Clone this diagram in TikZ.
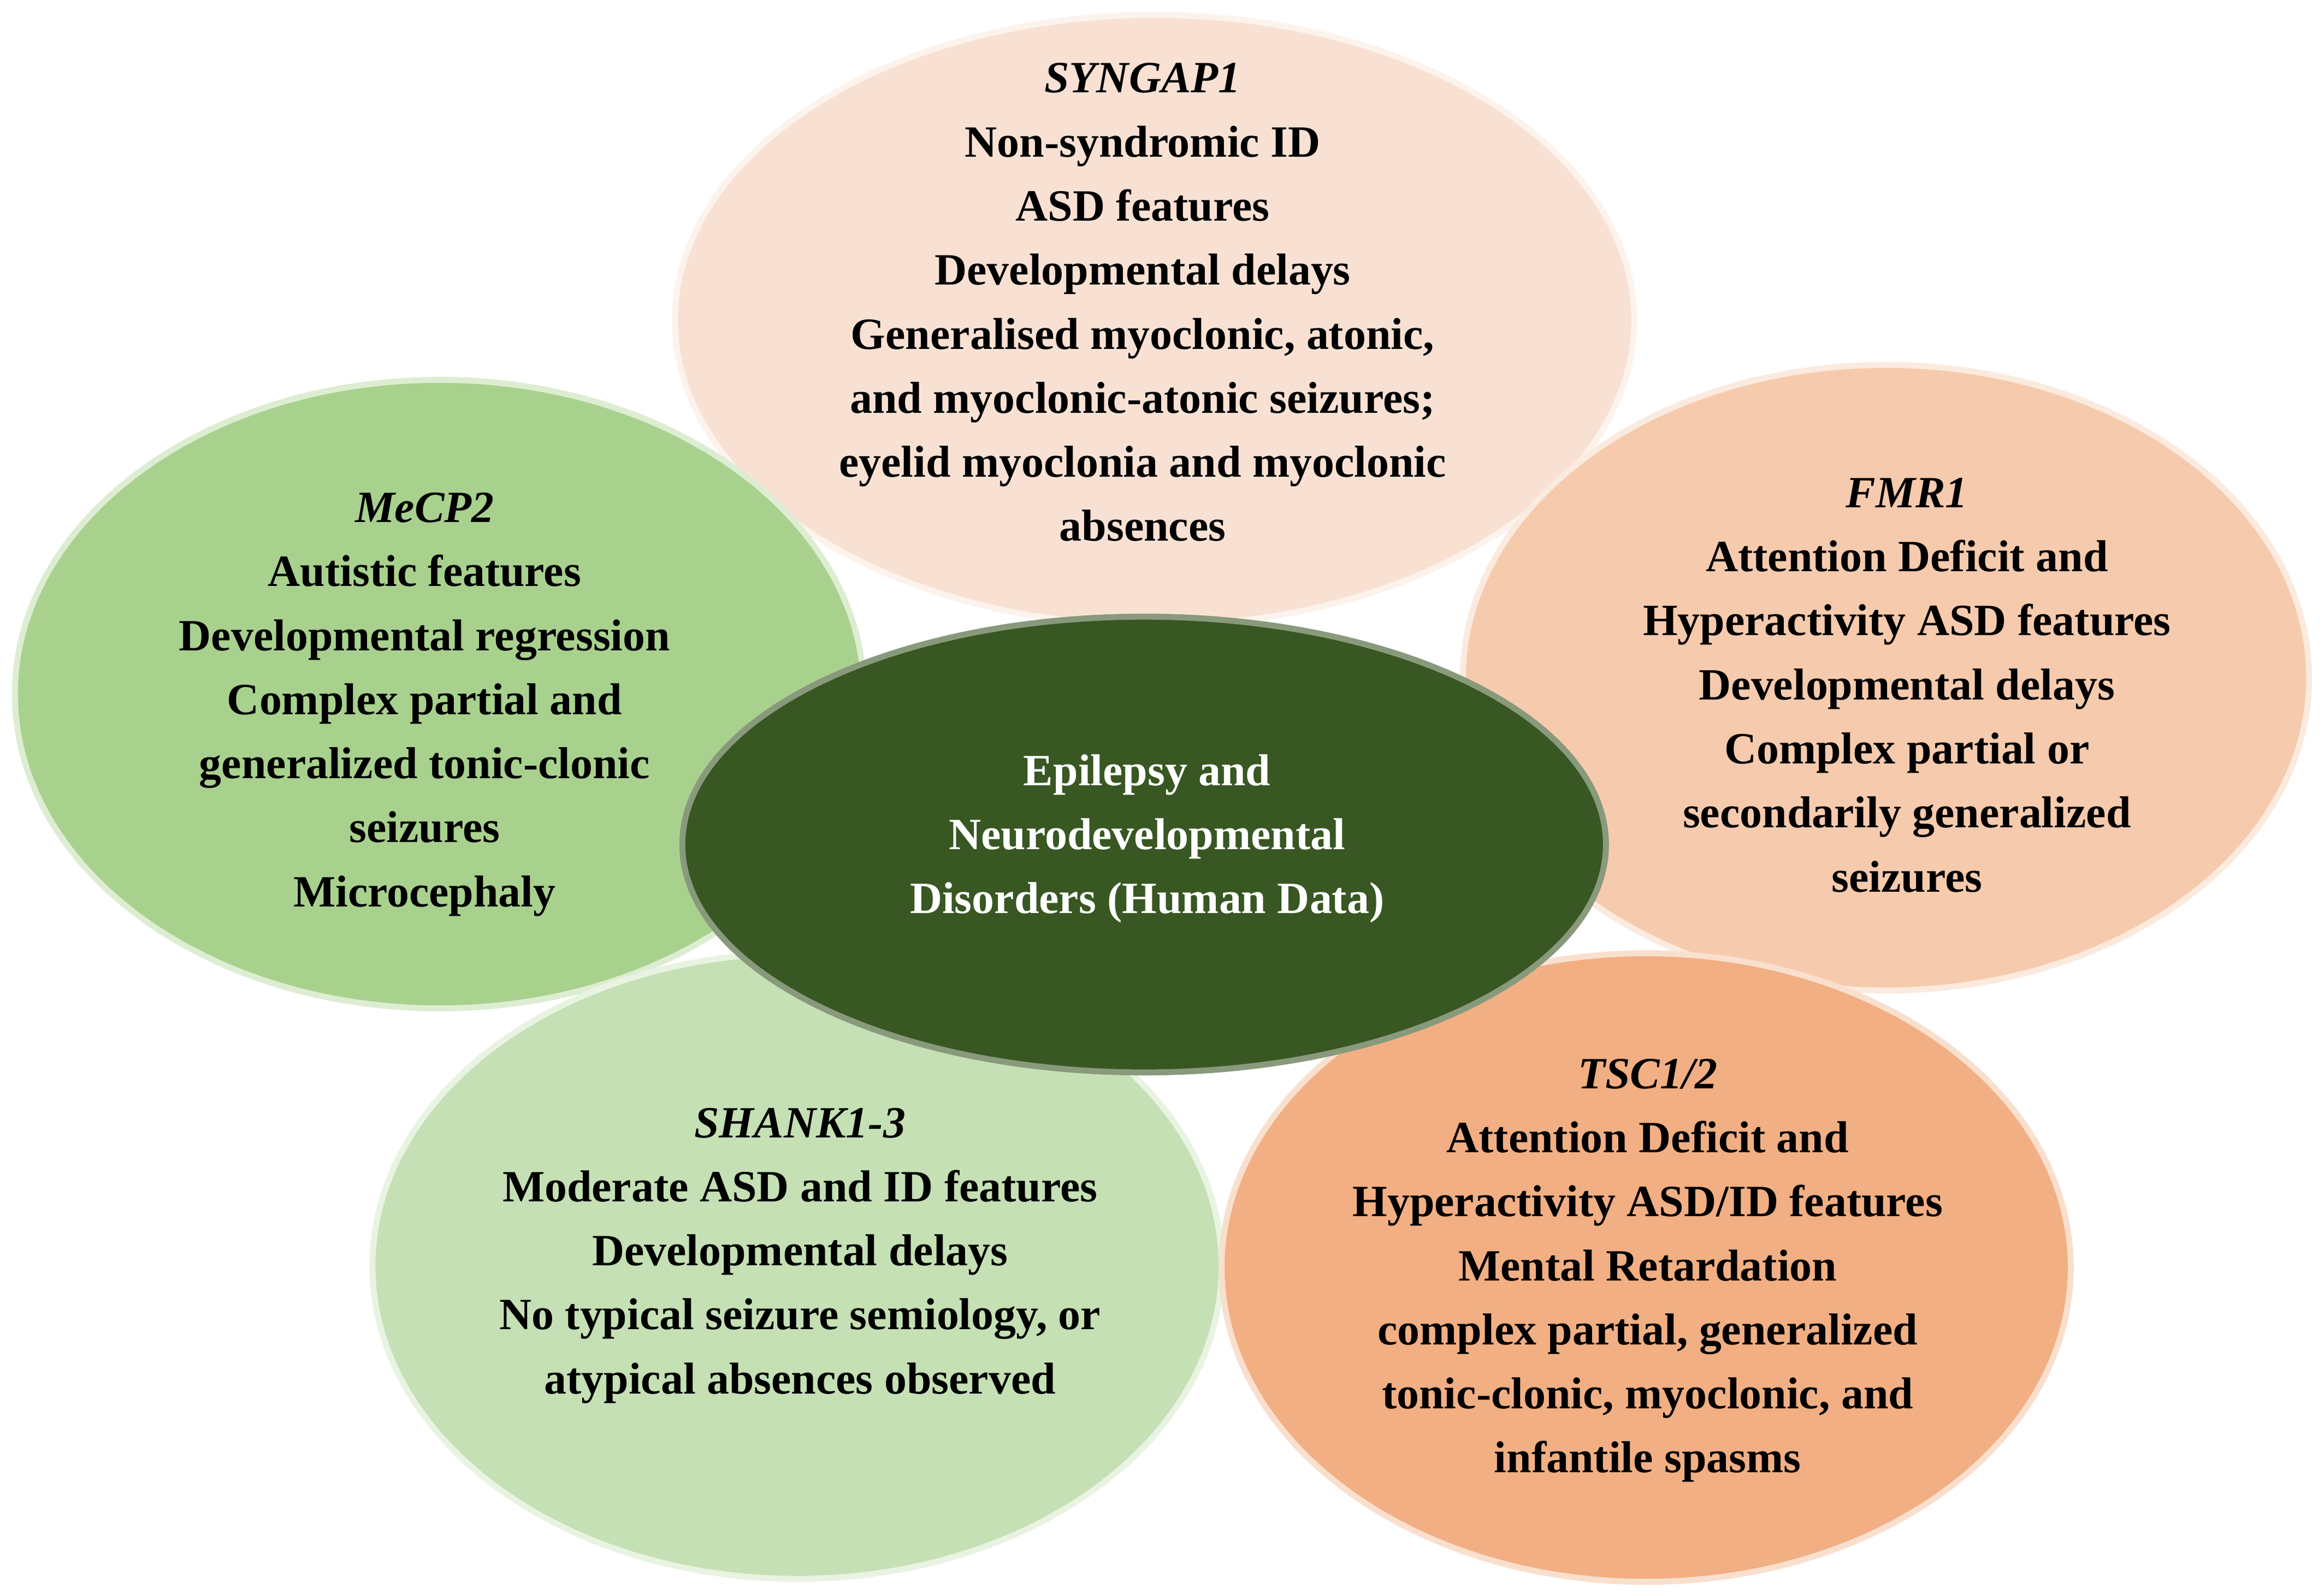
\documentclass[tikz,border=0pt]{standalone}
\usepackage{fontspec}
\setmainfont{Liberation Serif}
\definecolor{cSyn}{HTML}{F8E1D3}
\definecolor{cFmr}{HTML}{F6CAAD}
\definecolor{cTsc}{HTML}{F1AF83}
\definecolor{cMec}{HTML}{A9D18E}
\definecolor{cSha}{HTML}{C5E0B4}
\definecolor{cCen}{HTML}{385723}
\begin{document}
\begin{tikzpicture}[x=1pt,y=-1pt,
  blob/.style={draw=white!60!#1, line width=4pt, fill=#1},
  txt/.style={align=center, font=\fontsize{30}{43}\selectfont\bfseries}]
\useasboundingbox (0,0) rectangle (1560,1070);
\path[blob=cSyn] (775,215) ellipse [x radius=322, y radius=205];
\path[blob=cFmr] (1266,455) ellipse [x radius=284, y radius=210];
\path[blob=cMec] (295,466) ellipse [x radius=285, y radius=211];
\path[blob=cSha] (535,850) ellipse [x radius=285, y radius=210];
\path[blob=cTsc] (1105,851) ellipse [x radius=285, y radius=211];
\path[fill=cCen, draw=cCen!60!white, line width=4pt] (768,567) ellipse [x radius=310, y radius=153];
\node[txt] (syn) at (767,203) {\textit{SYNGAP1}\\Non-syndromic ID\\ASD features\\Developmental delays\\Generalised myoclonic, atonic,\\and myoclonic-atonic seizures;\\eyelid myoclonia and myoclonic\\absences};
\node[txt] (mec) at (285,473) {\textit{MeCP2}\\Autistic features\\Developmental regression\\Complex partial and\\generalized tonic-clonic\\seizures\\Microcephaly};
\node[txt] (fmr) at (1280,460) {\textit{FMR1}\\Attention Deficit and\\Hyperactivity ASD features\\Developmental delays\\Complex partial or\\secondarily generalized\\seizures};
\node[txt, text=white] (cen) at (770,563) {Epilepsy and\\Neurodevelopmental\\Disorders (Human Data)};
\node[txt] (sha) at (537,843) {\textit{SHANK1-3}\\Moderate ASD and ID features\\Developmental delays\\No typical seizure semiology, or\\atypical absences observed};
\node[txt] (tsc) at (1106,853) {\textit{TSC1/2}\\Attention Deficit and\\Hyperactivity ASD/ID features\\Mental Retardation\\complex partial, generalized\\tonic-clonic, myoclonic, and\\infantile spasms};
\end{tikzpicture}
\end{document}
